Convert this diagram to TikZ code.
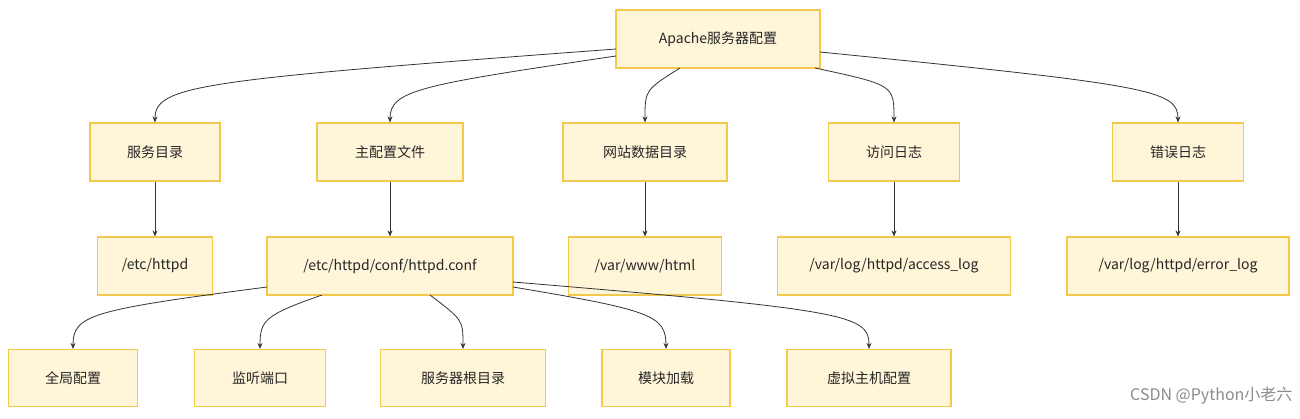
\documentclass[tikz,border=0pt]{standalone}
\usepackage{fontspec}
\setmainfont{Noto Sans CJK SC}
\usetikzlibrary{arrows.meta}
\definecolor{boxfill}{HTML}{FFF6D9}
\definecolor{boxline}{HTML}{F2C94C}
\definecolor{edge}{HTML}{333333}
\begin{document}
\begin{tikzpicture}[x=1pt,y=-1pt,
  box/.style={draw=boxline,fill=boxfill,line width=1.2pt,inner sep=0pt,font=\fontsize{14}{16}\selectfont,text=black!85},
  conn/.style={draw=edge,line width=0.8pt,-{Stealth[length=6pt,width=5pt]}}]
\path[use as bounding box,fill=white] (0,0) rectangle (1300,418);
\newcommand\bx[6]{\node[box,minimum width=#4pt,minimum height=#5pt] (#1) at (#2,#3) {#6};}
\bx{root}{718}{39}{204}{58}{Apache服务器配置}
\bx{a}{155}{152}{130}{58}{服务目录}
\bx{b}{390}{152}{146}{58}{主配置文件}
\bx{c}{645}{152}{164}{58}{网站数据目录}
\bx{d}{894}{152}{131}{58}{访问日志}
\bx{e}{1178}{152}{131}{58}{错误日志}
\bx{a1}{155}{266}{115}{58}{/etc/httpd}
\bx{b1}{390}{266}{246}{58}{/etc/httpd/conf/httpd.conf}
\bx{c1}{645}{266}{153}{58}{/var/www/html}
\bx{d1}{894}{266}{233}{58}{/var/log/httpd/access\_log}
\bx{e1}{1178}{266}{222}{58}{/var/log/httpd/error\_log}
\bx{f1}{73}{378}{129}{57}{全局配置}
\bx{f2}{260}{378}{131}{57}{监听端口}
\bx{f3}{463}{378}{165}{57}{服务器根目录}
\bx{f4}{666}{378}{128}{57}{模块加载}
\bx{f5}{869}{378}{164}{57}{虚拟主机配置}
\coordinate (r1) at (616,49);
\coordinate (r2) at (616,56);
\coordinate (r3) at (680,68);
\coordinate (r4) at (815,68);
\coordinate (r5) at (820,52);
\draw[conn] (r1) .. controls (200,80) and (155,85) .. (a.north);
\draw[conn] (r2) .. controls (420,85) and (390,90) .. (b.north);
\draw[conn] (r3) .. controls (645,90) .. (c.north);
\draw[conn] (r4) .. controls (894,85) .. (d.north);
\draw[conn] (r5) .. controls (1150,85) and (1178,90) .. (e.north);
\draw[conn] (a) -- (a1);
\draw[conn] (b) -- (b1);
\draw[conn] (c) -- (c1);
\draw[conn] (d) -- (d1);
\draw[conn] (e) -- (e1);
\coordinate (s1) at (267,287);
\coordinate (s2) at (322,295);
\coordinate (s3) at (430,295);
\coordinate (s4) at (513,287);
\coordinate (s5) at (513,282);
\draw[conn] (s1) .. controls (90,310) and (73,315) .. (f1.north);
\draw[conn] (s2) .. controls (265,315) and (260,320) .. (f2.north);
\draw[conn] (s3) .. controls (463,320) .. (f3.north);
\draw[conn] (s4) .. controls (650,310) and (666,315) .. (f4.north);
\draw[conn] (s5) .. controls (850,310) and (869,315) .. (f5.north);
\node[text=black!45,font=\fontsize{16}{18}\selectfont,anchor=east] (wm) at (1296,396) {CSDN @Python小老六};
\end{tikzpicture}
\end{document}
